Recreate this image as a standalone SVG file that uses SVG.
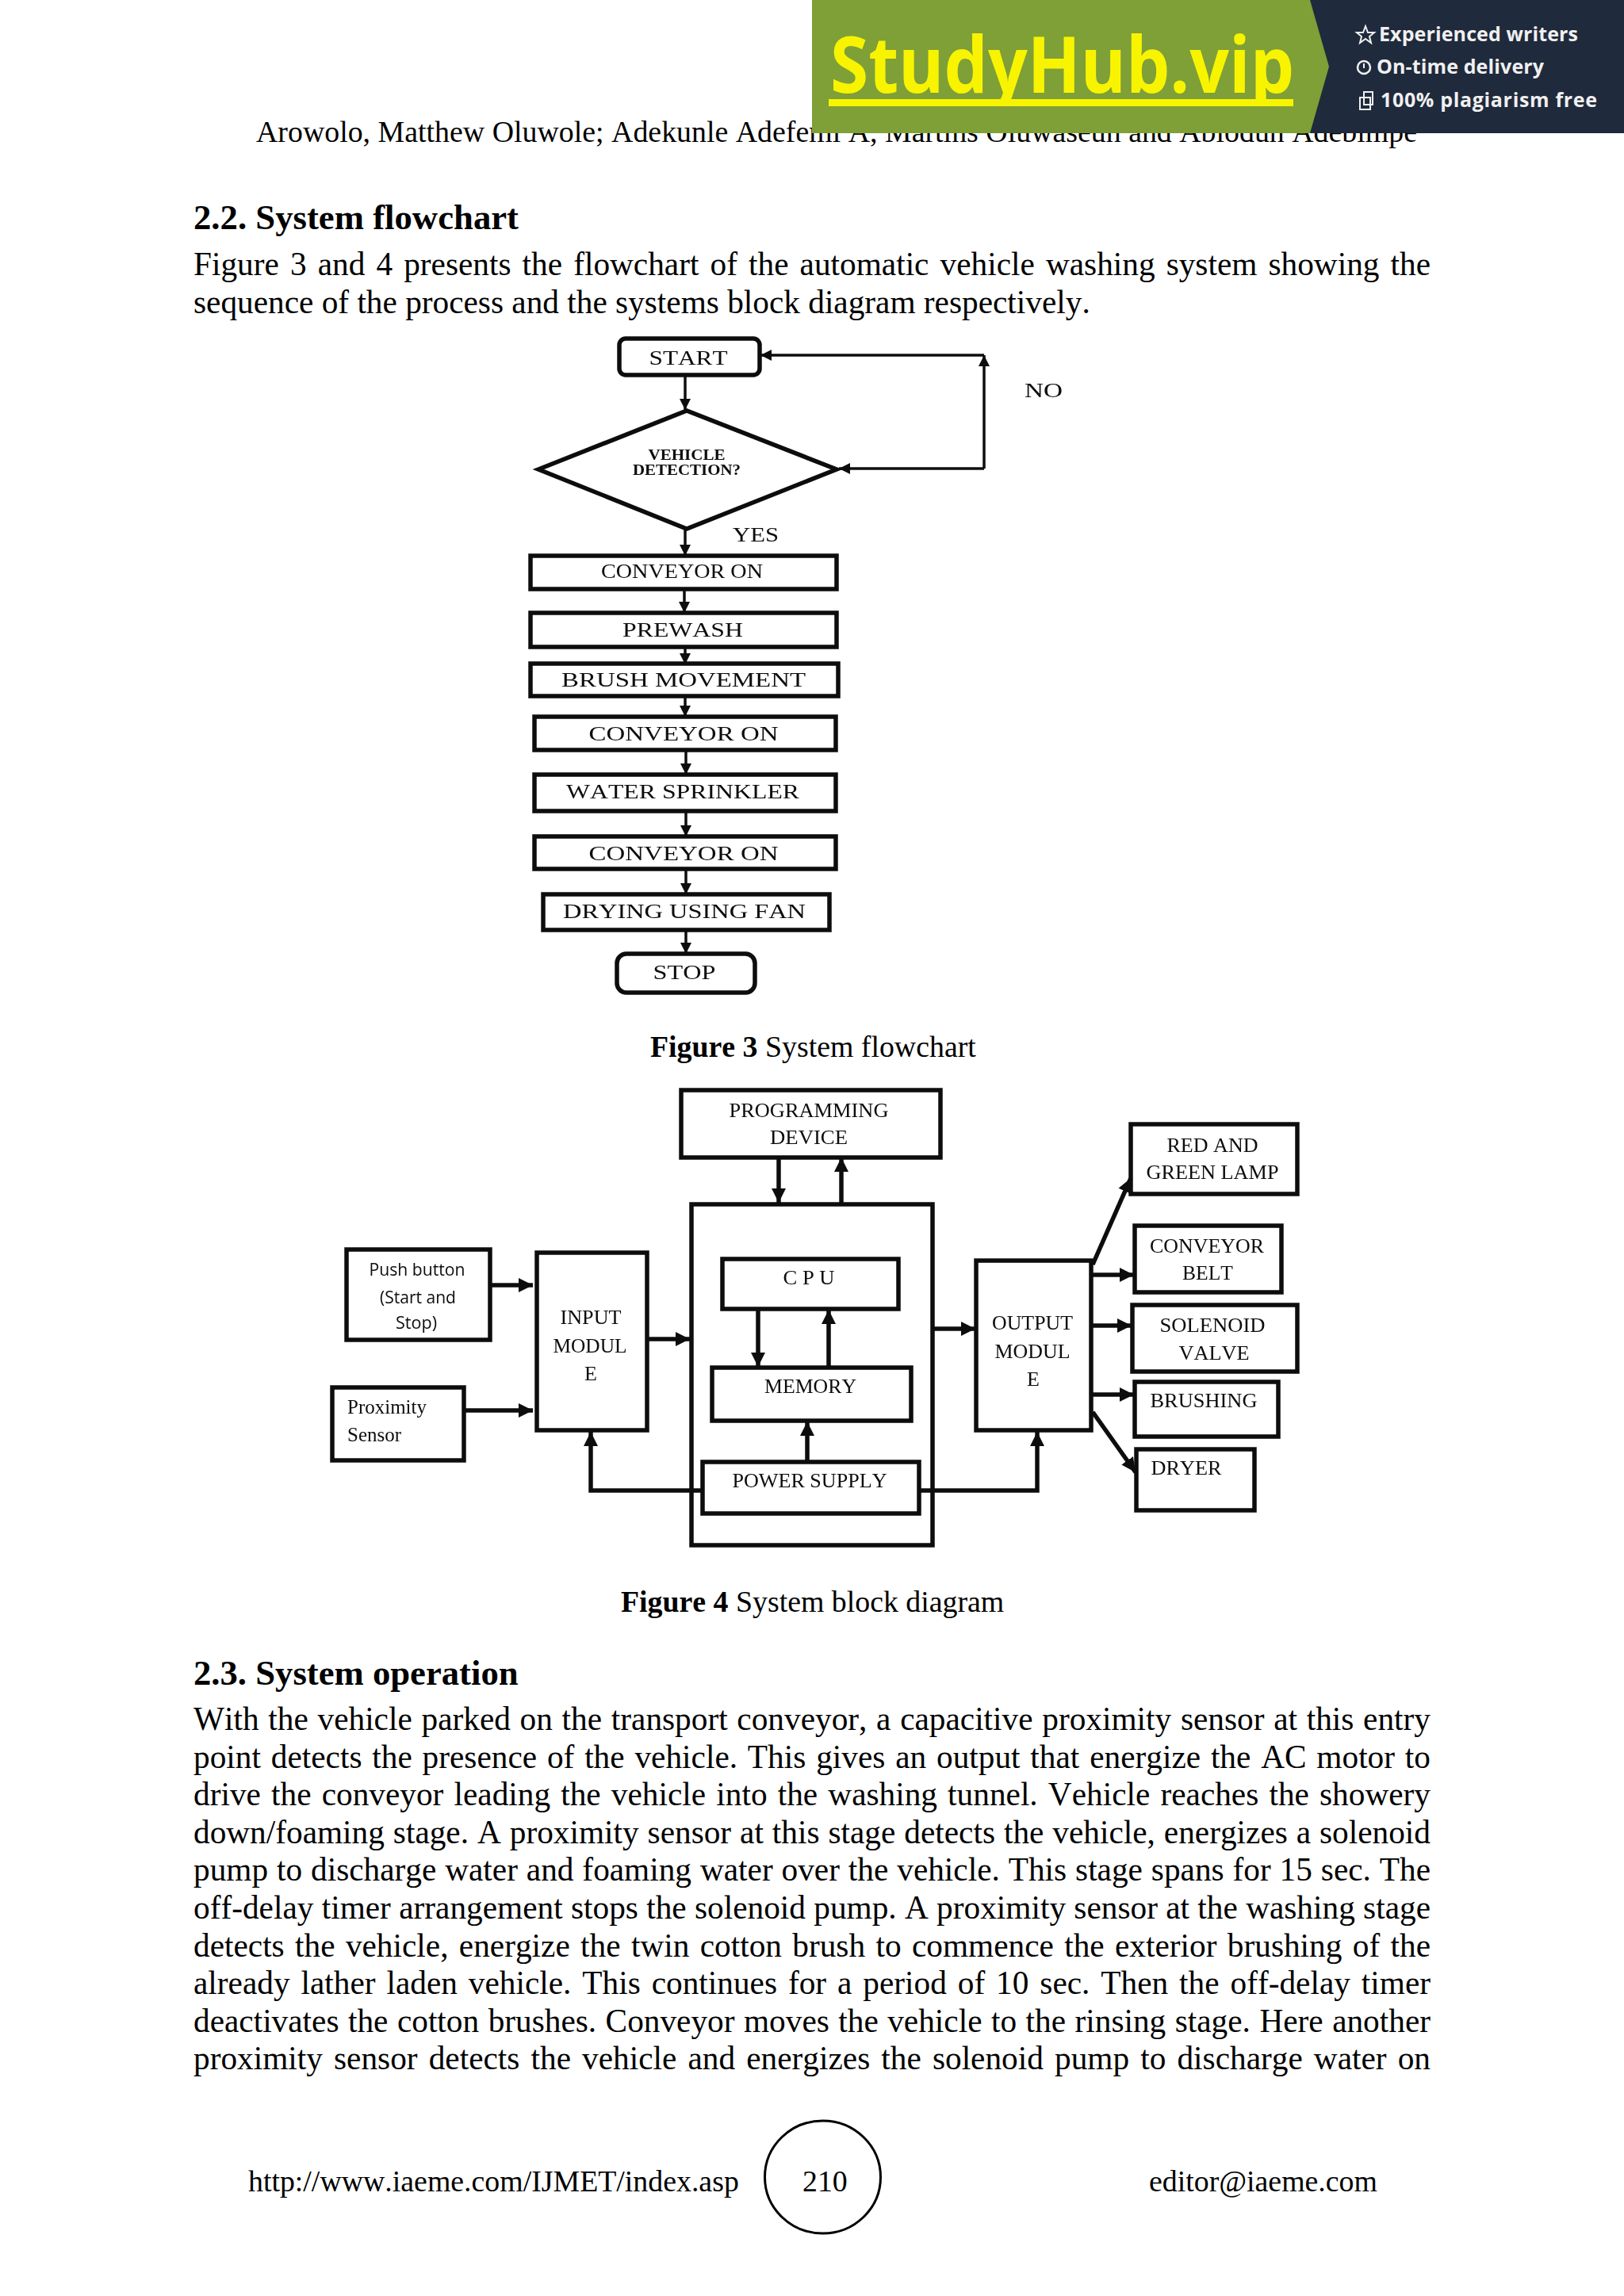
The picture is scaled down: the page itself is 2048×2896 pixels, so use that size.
<svg xmlns="http://www.w3.org/2000/svg" width="2048" height="2896" viewBox="0 0 2048 2896">
<style>
text{font-family:"Liberation Serif","Times New Roman",serif;fill:#000;font-kerning:none}
.b{font-size:41.3px}
.h{font-size:44.7px;font-weight:700}
.c{font-size:37.84px}
.cb{font-weight:700}
.f text,.bd text{fill:#0c0c0c;text-anchor:middle;font-size:26px}
.f rect,.f polygon,.bd rect{fill:#fff;stroke:#0a0a0a;stroke-width:5.5}
.cn path{fill:none;stroke:#0a0a0a;stroke-width:5.5}
.cf path{fill:none;stroke:#111;stroke-width:3.5}
.sans{font-family:"Open Sans","Liberation Sans",sans-serif}
.ban{font-family:"Open Sans","Liberation Sans",sans-serif;font-weight:700;fill:#f0f0f0;font-size:25px}
</style>
<defs>
<filter id="soft" x="-5%" y="-5%" width="110%" height="110%"><feGaussianBlur stdDeviation="0.6"/></filter>
<marker id="af" markerUnits="userSpaceOnUse" markerWidth="16" markerHeight="16" refX="14" refY="8" orient="auto"><path d="M0 1L14 8L0 15Z" fill="#111"/></marker>
<marker id="ab" markerUnits="userSpaceOnUse" markerWidth="20" markerHeight="20" refX="18" refY="10" orient="auto"><path d="M0 1L18 10L0 19Z" fill="#111"/></marker>
<clipPath id="logoClip"><rect x="1030" y="0" width="620" height="134"/></clipPath>
</defs>
<rect width="2048" height="2896" fill="#fff"/>

<g id="page-text">
<text class="c" x="323" y="179" textLength="1464">Arowolo, Matthew Oluwole; Adekunle Adefemi A, Martins Oluwaseun and Abiodun Adebimpe</text>
<text class="h" x="244" y="289" textLength="410">2.2. System flowchart</text>
<text class="b" x="244" y="347" word-spacing="3.77" textLength="1560">Figure 3 and 4 presents the flowchart of the automatic vehicle washing system showing the</text>
<text class="b" x="244" y="395">sequence of the process and the systems block diagram respectively.</text>
<text class="c" x="820" y="1333"><tspan class="cb">Figure 3</tspan> System flowchart</text>
<text class="c" x="783" y="2033"><tspan class="cb">Figure 4</tspan> System block diagram</text>
<text class="h" x="244" y="2125">2.3. System operation</text>
<text class="b" x="244" y="2182" word-spacing="1.4" textLength="1560">With the vehicle parked on the transport conveyor, a capacitive proximity sensor at this entry</text>
<text class="b" x="244" y="2229.6" word-spacing="2.5" textLength="1560">point detects the presence of the vehicle. This gives an output that energize the AC motor to</text>
<text class="b" x="244" y="2277.2" word-spacing="2.83" textLength="1560">drive the conveyor leading the vehicle into the washing tunnel. Vehicle reaches the showery</text>
<text class="b" x="244" y="2324.8" word-spacing="0.62" textLength="1560">down/foaming stage. A proximity sensor at this stage detects the vehicle, energizes a solenoid</text>
<text class="b" x="244" y="2372.4" word-spacing="0.58" textLength="1560">pump to discharge water and foaming water over the vehicle. This stage spans for 15 sec. The</text>
<text class="b" x="244" y="2420" textLength="1560">off-delay timer arrangement stops the solenoid pump. A proximity sensor at the washing stage</text>
<text class="b" x="244" y="2467.6" word-spacing="3.04" textLength="1560">detects the vehicle, energize the twin cotton brush to commence the exterior brushing of the</text>
<text class="b" x="244" y="2515.2" word-spacing="3.6" textLength="1560">already lather laden vehicle. This continues for a period of 10 sec. Then the off-delay timer</text>
<text class="b" x="244" y="2562.8" word-spacing="1.15" textLength="1560">deactivates the cotton brushes. Conveyor moves the vehicle to the rinsing stage. Here another</text>
<text class="b" x="244" y="2610.4" word-spacing="3.8" textLength="1560">proximity sensor detects the vehicle and energizes the solenoid pump to discharge water on</text>
</g>

<g id="banner">
<rect x="1024" y="0" width="1024" height="168" fill="#1f2a3c"/>
<polygon points="1024,0 1652,0 1676,84 1652,168 1024,168" fill="#7f9f37"/>
<text clip-path="url(#logoClip)" x="1047" y="117" textLength="585" lengthAdjust="spacingAndGlyphs" class="sans" font-size="98" font-weight="700" style="fill:#f8f400">StudyHub.vip</text>
<rect x="1045" y="125" width="586" height="9" fill="#f8f400"/>
<polygon points="1722,33 1725,41 1733,41 1727,46 1729,54 1722,49 1715,54 1717,46 1711,41 1719,41" fill="none" stroke="#f0f0f0" stroke-width="2"/>
<text class="ban" x="1739" y="52" textLength="251">Experienced writers</text>
<circle cx="1720" cy="85" r="8" fill="none" stroke="#f0f0f0" stroke-width="2.5"/>
<path d="M1720 80V86" stroke="#f0f0f0" stroke-width="2"/>
<text class="ban" x="1736" y="93" textLength="211">On-time delivery</text>
<rect x="1715" y="123" width="13" height="15" fill="#1f2a3c" stroke="#f0f0f0" stroke-width="2"/>
<rect x="1720" y="116" width="11" height="16" fill="none" stroke="#f0f0f0" stroke-width="2"/>
<text class="ban" x="1741" y="135" textLength="273">100% plagiarism free</text>
</g>

<g id="figure3" class="f" filter="url(#soft)" transform="translate(1 0)">
<g id="fc-connectors" class="cf">
<path d="M863 473V517" marker-end="url(#af)"/>
<path d="M863 667V701" marker-end="url(#af)"/>
<path d="M862 745V773" marker-end="url(#af)"/>
<path d="M863 816V838" marker-end="url(#af)"/>
<path d="M863 878V904" marker-end="url(#af)"/>
<path d="M864 946V977" marker-end="url(#af)"/>
<path d="M864 1023V1055" marker-end="url(#af)"/>
<path d="M864 1096V1128" marker-end="url(#af)"/>
<path d="M864 1173V1203" marker-end="url(#af)"/>
<path d="M1240 591H1057" marker-end="url(#af)"/>
<path d="M1240 591V448" marker-end="url(#af)"/>
<path d="M1240 448H958" marker-end="url(#af)"/>
</g>
<g id="fc-start"><rect x="780" y="427" width="177" height="46" rx="8"/><text x="867" y="460" textLength="99" lengthAdjust="spacingAndGlyphs">START</text></g>
<g id="fc-decision"><polygon points="678,592 865,518 1054,592 865,667"/><text x="865" y="580" textLength="97" lengthAdjust="spacingAndGlyphs" style="font-size:18px;font-weight:700">VEHICLE</text><text x="865" y="599" textLength="136" lengthAdjust="spacingAndGlyphs" style="font-size:18px;font-weight:700">DETECTION?</text></g>
<g id="fc-no"><text x="1315" y="501" textLength="48" lengthAdjust="spacingAndGlyphs">NO</text></g>
<g id="fc-yes"><text x="952" y="683" textLength="58" lengthAdjust="spacingAndGlyphs">YES</text></g>
<g id="fc-conveyor1"><rect x="668" y="701" width="386" height="42"/><text x="859" y="729" textLength="204" lengthAdjust="spacingAndGlyphs">CONVEYOR ON</text></g>
<g id="fc-prewash"><rect x="668" y="773" width="386" height="43"/><text x="860" y="803" textLength="152" lengthAdjust="spacingAndGlyphs">PREWASH</text></g>
<g id="fc-brush"><rect x="668" y="837" width="388" height="41"/><text x="861" y="866" textLength="308" lengthAdjust="spacingAndGlyphs">BRUSH MOVEMENT</text></g>
<g id="fc-conveyor2"><rect x="673" y="904" width="380" height="42"/><text x="861" y="934" textLength="239" lengthAdjust="spacingAndGlyphs">CONVEYOR ON</text></g>
<g id="fc-water"><rect x="673" y="977" width="380" height="46"/><text x="860" y="1007" textLength="294" lengthAdjust="spacingAndGlyphs">WATER SPRINKLER</text></g>
<g id="fc-conveyor3"><rect x="673" y="1055" width="380" height="41"/><text x="861" y="1085" textLength="239" lengthAdjust="spacingAndGlyphs">CONVEYOR ON</text></g>
<g id="fc-drying"><rect x="684" y="1128" width="361" height="45"/><text x="862" y="1158" textLength="306" lengthAdjust="spacingAndGlyphs">DRYING USING FAN</text></g>
<g id="fc-stop"><rect x="777" y="1203" width="174" height="49" rx="12"/><text x="862" y="1235" textLength="79" lengthAdjust="spacingAndGlyphs">STOP</text></g>
</g>

<g id="figure4" class="bd" filter="url(#soft)">
<g id="bd-programming"><rect x="859" y="1375" width="327" height="85"/><text x="1020" y="1409" textLength="201" lengthAdjust="spacingAndGlyphs">PROGRAMMING</text><text x="1020" y="1443" textLength="98" lengthAdjust="spacingAndGlyphs">DEVICE</text></g>
<g id="bd-plc"><rect x="872" y="1519" width="304" height="430"/></g>
<g id="bd-cpu"><rect x="911" y="1588" width="222" height="63"/><text x="1020" y="1620" textLength="65" lengthAdjust="spacingAndGlyphs">C P U</text></g>
<g id="bd-memory"><rect x="898" y="1725" width="251" height="67"/><text x="1022" y="1757" textLength="116" lengthAdjust="spacingAndGlyphs">MEMORY</text></g>
<g id="bd-power"><rect x="886" y="1844" width="273" height="65"/><text x="1021" y="1876" textLength="195" lengthAdjust="spacingAndGlyphs">POWER SUPPLY</text></g>
<g id="bd-push"><rect x="437" y="1576" width="181" height="114"/><text class="sans" x="526" y="1609" style="font-size:22px" textLength="121" lengthAdjust="spacingAndGlyphs">Push button</text><text class="sans" x="527" y="1644" style="font-size:22px" textLength="96" lengthAdjust="spacingAndGlyphs">(Start and</text><text class="sans" x="525" y="1676" style="font-size:22px" textLength="52" lengthAdjust="spacingAndGlyphs">Stop)</text></g>
<g id="bd-proximity"><rect x="419" y="1750" width="166" height="92"/><text x="488" y="1783" textLength="100" lengthAdjust="spacingAndGlyphs">Proximity</text><text x="472" y="1818" textLength="68" lengthAdjust="spacingAndGlyphs">Sensor</text></g>
<g id="bd-input"><rect x="677" y="1580" width="139" height="224"/><text x="745" y="1670" textLength="77" lengthAdjust="spacingAndGlyphs">INPUT</text><text x="744" y="1706" textLength="93" lengthAdjust="spacingAndGlyphs">MODUL</text><text x="745" y="1741">E</text></g>
<g id="bd-output"><rect x="1231" y="1590" width="145" height="214"/><text x="1302" y="1677" textLength="102" lengthAdjust="spacingAndGlyphs">OUTPUT</text><text x="1302" y="1713" textLength="95" lengthAdjust="spacingAndGlyphs">MODUL</text><text x="1303" y="1748">E</text></g>
<g id="bd-lamp"><rect x="1426" y="1418" width="210" height="88"/><text x="1529" y="1453" textLength="115" lengthAdjust="spacingAndGlyphs">RED AND</text><text x="1529" y="1487" textLength="167" lengthAdjust="spacingAndGlyphs">GREEN LAMP</text></g>
<g id="bd-belt"><rect x="1431" y="1546" width="185" height="84"/><text x="1522" y="1580" textLength="144" lengthAdjust="spacingAndGlyphs">CONVEYOR</text><text x="1523" y="1614" textLength="64" lengthAdjust="spacingAndGlyphs">BELT</text></g>
<g id="bd-valve"><rect x="1428" y="1646" width="208" height="84"/><text x="1529" y="1680" textLength="133" lengthAdjust="spacingAndGlyphs">SOLENOID</text><text x="1531" y="1715" textLength="89" lengthAdjust="spacingAndGlyphs">VALVE</text></g>
<g id="bd-brushing"><rect x="1431" y="1743" width="181" height="69"/><text x="1518" y="1775" textLength="135" lengthAdjust="spacingAndGlyphs">BRUSHING</text></g>
<g id="bd-dryer"><rect x="1433" y="1828" width="149" height="77"/><text x="1496" y="1860" textLength="89" lengthAdjust="spacingAndGlyphs">DRYER</text></g>
<g id="bd-connectors" class="cn">
<path d="M982 1460V1517" marker-end="url(#ab)"/>
<path d="M1061 1519V1460" marker-end="url(#ab)"/>
<path d="M956 1651V1724" marker-end="url(#ab)"/>
<path d="M1045 1725V1652" marker-end="url(#ab)"/>
<path d="M1018 1844V1793" marker-end="url(#ab)"/>
<path d="M619 1621H672" marker-end="url(#ab)"/>
<path d="M586 1779H672" marker-end="url(#ab)"/>
<path d="M818 1689H870" marker-end="url(#ab)"/>
<path d="M1177 1676H1230" marker-end="url(#ab)"/>
<path d="M885 1880H745V1806" marker-end="url(#ab)"/>
<path d="M1160 1880H1308V1806" marker-end="url(#ab)"/>
<path d="M1378 1595L1426 1486" marker-end="url(#ab)"/>
<path d="M1377 1608H1430" marker-end="url(#ab)"/>
<path d="M1377 1672H1427" marker-end="url(#ab)"/>
<path d="M1377 1759H1430" marker-end="url(#ab)"/>
<path d="M1378 1781L1432 1857" marker-end="url(#ab)"/>
</g>
</g>

<g id="footer">
<text class="c" x="313" y="2764">http://www.iaeme.com/IJMET/index.asp</text>
<ellipse cx="1037.5" cy="2746" rx="73" ry="71" fill="none" stroke="#000" stroke-width="3"/>
<text class="c" x="1012" y="2764">210</text>
<text class="c" x="1449" y="2764">editor@iaeme.com</text>
</g>
</svg>
